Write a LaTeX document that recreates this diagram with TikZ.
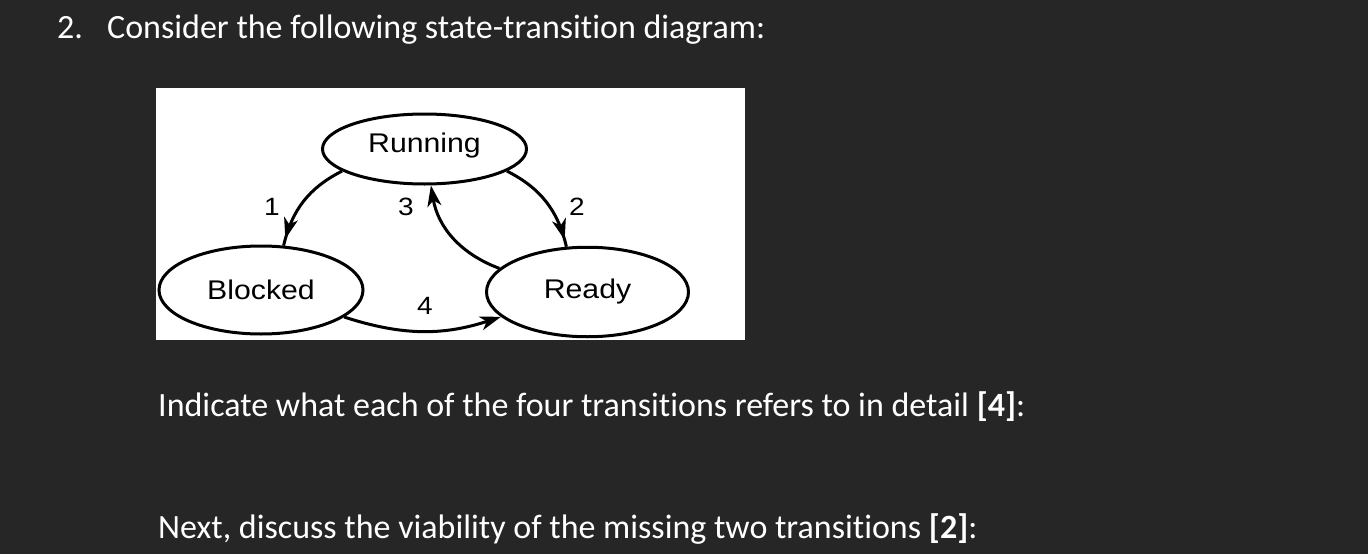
\documentclass[tikz,border=0pt]{standalone}
\usepackage{fontspec}
\usepackage{graphicx}
\setmainfont{Carlito}[Ligatures=NoCommon]
\newfontfamily\helv{Liberation Sans}
\usetikzlibrary{arrows.meta,shapes.geometric,decorations.markings}
\definecolor{bg}{HTML}{262626}
\newcommand\widetxt[1]{\scalebox{1.12}[1]{#1}}
\tikzset{
  st/.style={draw=black, line width=3pt, ellipse, inner sep=0pt,
    font=\helv\fontsize{27}{30}\selectfont},
  tr/.style={line width=3pt, draw=black},
  lbl/.style={font=\helv\fontsize{25}{28}\selectfont, inner sep=0pt},
  txt/.style={text=white, font=\fontsize{34}{40}\selectfont, anchor=base west, inner sep=0pt},
  ah/.style={-{Stealth[length=21pt,width=14pt,inset=6pt]}},
  midah/.style={postaction={decorate},
    decoration={markings, mark=at position #1 with {\arrow{Stealth[length=21pt,width=14pt,inset=6pt]}}}}
}
\begin{document}
\begin{tikzpicture}[x=1pt,y=1pt]
\fill[bg] (0,0) rectangle (1368,-554);
\useasboundingbox (0,0) rectangle (1368,-554);
\node[txt] (num) at (57,-38) {2.};
\node[txt] (title) at (107,-38) {Consider the following state-transition diagram:};
\fill[white] (155.5,-88) rectangle (745,-340);
\node[st, minimum width=204, minimum height=70] (run) at (424.5,-149) {\raisebox{13pt}{\widetxt{Running}}};
\node[st, minimum width=204, minimum height=88] (blk) at (261,-290) {\widetxt{Blocked}};
\node[st, minimum width=202, minimum height=89.5] (rdy) at (587.5,-292) {\widetxt{Ready}};
\draw[tr, midah=0.93] (run.195.5) to[bend right=25] (blk.63);
\draw[tr, midah=0.93] (run.345.6) to[bend left=25] (rdy.115.6);
\draw[tr, ah] (rdy.165) to[bend left=30] (run.280);
\draw[tr, ah] (blk.342.6) to[bend right=18] (rdy.196.4);
\node[lbl] (l1) at (272,-207) {\widetxt{1}};
\node[lbl] (l3) at (406,-207) {\widetxt{3}};
\node[lbl] (l2) at (577,-207) {\widetxt{2}};
\node[lbl] (l4) at (425,-306) {\widetxt{4}};
\node[txt] (q1) at (158,-416) {Indicate what each of the four transitions refers to in detail \textbf{[4]}:};
\node[txt] (q2) at (158,-538) {Next, discuss the viability of the missing two transitions \textbf{[2]}:};
\end{tikzpicture}
\end{document}
